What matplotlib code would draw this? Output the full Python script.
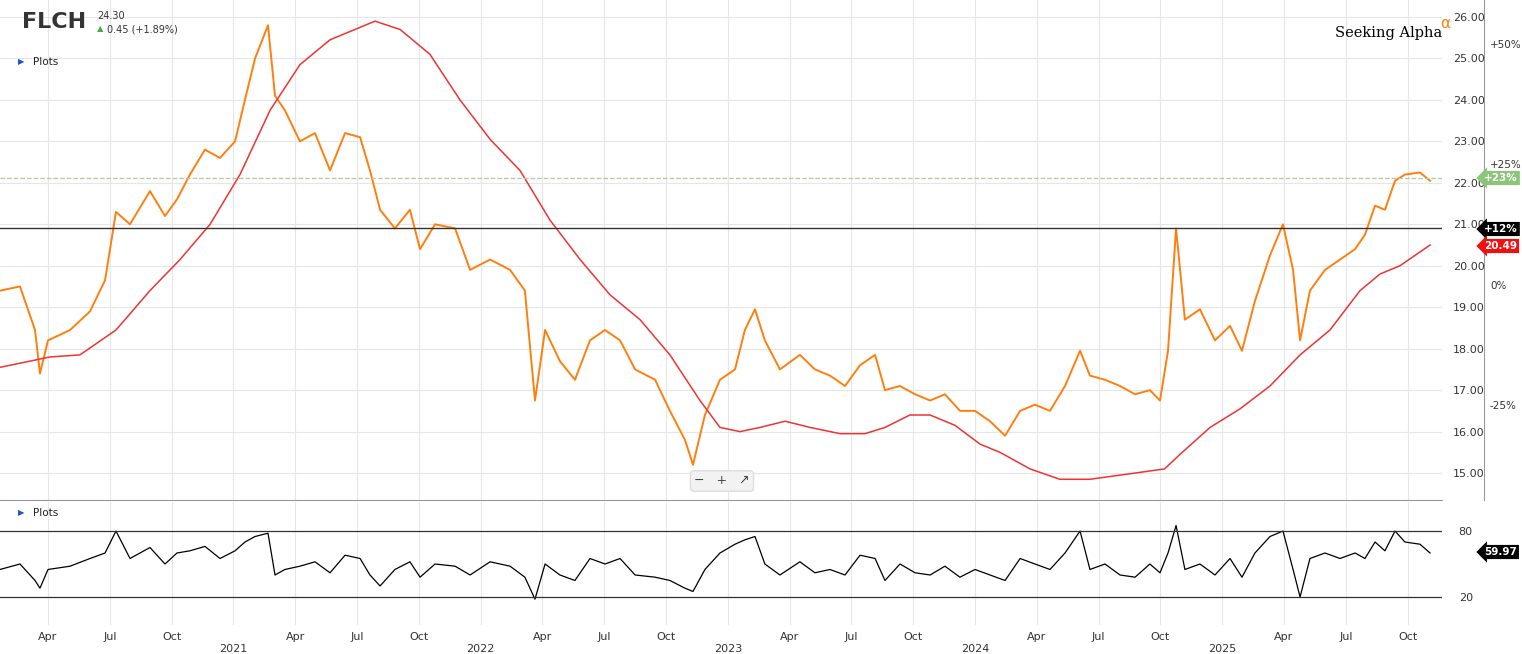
import matplotlib.pyplot as plt
from matplotlib.lines import Line2D

# x positions in months since Jan 1 2020
price_t = [0.67, 1.64, 2.37, 2.61, 3.0, 4.07, 5.04, 5.77, 6.3, 6.98, 7.95, 8.68, 9.26, 9.89, 10.62,
           11.35, 12.08, 12.56, 13.05, 13.68, 14.02, 14.5, 15.23, 15.96, 16.69, 17.42, 18.15, 18.63,
           19.12, 19.84, 20.57, 21.06, 21.79, 22.76, 23.49, 24.46, 25.43, 26.15, 26.64, 27.13, 27.85,
           28.58, 29.31, 30.04, 30.77, 31.5, 32.47, 33.19, 33.92, 34.31, 34.89, 35.62, 36.35, 36.83,
           37.32, 37.8, 38.53, 39.5, 40.23, 40.96, 41.69, 42.42, 43.15, 43.63, 44.36, 45.09, 45.82,
           46.54, 47.27, 48.0, 48.73, 49.46, 50.19, 50.91, 51.64, 52.37, 53.1, 53.58, 54.31, 55.04,
           55.77, 56.49, 56.98, 57.37, 57.76, 58.19, 58.92, 59.65, 60.38, 60.96, 61.59, 62.32, 62.95,
           63.44, 63.78, 64.26, 64.99, 65.72, 66.45, 66.93, 67.42, 67.9, 68.39, 68.87, 69.6, 70.09]
price = [19.4, 19.5, 18.45, 17.4, 18.2, 18.45, 18.9, 19.65, 21.3, 21.0, 21.8, 21.2, 21.6, 22.2, 22.8,
         22.6, 23.0, 24.0, 25.0, 25.8, 24.1, 23.75, 23.0, 23.2, 22.3, 23.2, 23.1, 22.3, 21.35, 20.9,
         21.35, 20.4, 21.0, 20.9, 19.9, 20.15, 19.9, 19.4, 16.75, 18.45, 17.7, 17.25, 18.2, 18.45,
         18.2, 17.5, 17.25, 16.5, 15.8, 15.2, 16.4, 17.25, 17.5, 18.45, 18.95, 18.2, 17.5, 17.85,
         17.5, 17.35, 17.1, 17.6, 17.85, 17.0, 17.1, 16.9, 16.75, 16.9, 16.5, 16.5, 16.25, 15.9,
         16.5, 16.65, 16.5, 17.1, 17.95, 17.35, 17.25, 17.1, 16.9, 17.0, 16.75, 17.95, 20.9, 18.7,
         18.95, 18.2, 18.55, 17.95, 19.15, 20.25, 21.0, 19.9, 18.2, 19.4, 19.9, 20.15, 20.4, 20.75,
         21.45, 21.35, 22.05, 22.2, 22.25, 22.05]
rsi = [45, 50, 35, 28, 45, 48, 55, 60, 80, 55, 65, 50, 60, 62, 66, 55, 62, 70, 75, 78, 40, 45, 48,
       52, 42, 58, 55, 40, 30, 45, 52, 38, 50, 48, 40, 52, 48, 38, 18, 50, 40, 35, 55, 50, 55, 40,
       38, 35, 28, 25, 45, 60, 68, 72, 75, 50, 40, 52, 42, 45, 40, 58, 55, 35, 50, 42, 40, 48, 38,
       45, 40, 35, 55, 50, 45, 60, 80, 45, 50, 40, 38, 50, 42, 60, 85, 45, 50, 40, 55, 38, 60, 75,
       80, 45, 20, 55, 60, 55, 60, 55, 70, 62, 80, 70, 68, 60]
sma_t = [0.67, 3.1, 4.55, 6.3, 7.95, 9.41, 10.87, 12.32, 13.78, 15.23, 16.69, 18.15, 18.87, 20.09,
         21.54, 23.0, 24.46, 25.91, 27.37, 28.83, 30.28, 31.74, 33.19, 34.65, 35.62, 36.59, 37.56,
         38.78, 40.0, 41.45, 42.66, 43.63, 44.84, 45.82, 47.03, 48.24, 49.21, 50.67, 52.12, 53.58,
         55.04, 56.49, 57.2, 57.95, 59.41, 60.87, 62.32, 63.78, 65.23, 66.69, 67.66, 68.63, 70.09]
sma = [17.55, 17.8, 17.85, 18.45, 19.4, 20.15, 21.0, 22.2, 23.75, 24.85, 25.45, 25.75, 25.9, 25.7,
       25.1, 24.0, 23.05, 22.3, 21.1, 20.15, 19.3, 18.7, 17.85, 16.75, 16.1, 16.0, 16.1, 16.25,
       16.1, 15.95, 15.95, 16.1, 16.4, 16.4, 16.15, 15.7, 15.5, 15.1, 14.85, 14.85, 14.95, 15.05,
       15.1, 15.45, 16.1, 16.55, 17.1, 17.85, 18.45, 19.4, 19.8, 20.0, 20.5]
price_ticks = [15, 16, 17, 18, 19, 20, 21, 22, 23, 24, 25, 26]
month_ticks = list(range(3, 70, 3))
month_names = {0: '', 3: 'Apr', 6: 'Jul', 9: 'Oct'}

W, H = 1522, 654
fig = plt.figure(figsize=(W / 100, H / 100), dpi=100)
ax = fig.add_axes([0, (H - 500) / H, 1442 / W, 500 / H])
ax2 = fig.add_axes([0, (H - 625) / H, 1442 / W, 123 / H])

xlim = (0.67, 70.67)
ax.plot(price_t, price, color='#ff7f0e', lw=1.4)
ax.plot(sma_t, sma, color='#ee3333', lw=1.1)
ax.axhline(20.9, color='#333333', lw=1)
ax.axhline(22.12, color='#b5c99a', lw=0.9, ls='--')
ax.set_xlim(*xlim)
ax.set_ylim(14.35, 26.41)
ax.yaxis.tick_right()
ax.set_yticks(price_ticks)
ax.set_yticklabels(['%.2f' % v for v in price_ticks], fontsize=8, color='#333333')
ax.tick_params(axis='y', length=0, pad=8)
ax.set_xticks(month_ticks)
ax.set_xticklabels([])
ax.tick_params(axis='x', length=0)
ax.grid(True, color='#e6e6e6', lw=0.8)
for s in ax.spines.values():
    s.set_visible(False)
ax.spines['bottom'].set_visible(True)
ax.spines['bottom'].set_color('#999999')

ax2.plot(price_t, rsi, color='black', lw=0.9)
ax2.axhline(80, color='#333333', lw=0.9)
ax2.axhline(20, color='#333333', lw=0.9)
ax2.set_xlim(*xlim)
ax2.set_ylim(-5.5, 106.4)
ax2.yaxis.tick_right()
ax2.set_yticks([20, 80])
ax2.set_yticklabels(['20', '80'], fontsize=8, color='#333333')
ax2.tick_params(axis='y', length=0, pad=12)
ax2.set_xticks(month_ticks)
ax2.set_xticklabels([month_names[m % 12] if m % 12 else '\n%d' % (2020 + m // 12)
                     for m in month_ticks], fontsize=8, color='#333333')
ax2.tick_params(axis='x', length=0, pad=5)
ax2.grid(True, axis='x', color='#e6e6e6', lw=0.8)
for s in ax2.spines.values():
    s.set_visible(False)

fig.add_artist(Line2D([1484 / W, 1484 / W], [1 - 500 / H, 1], color='#999999', lw=0.8))
for pct, yp in [('+50%', 45), ('+25%', 165), ('0%', 286), ('-25%', 406)]:
    fig.text(1490 / W, 1 - yp / H, pct, fontsize=7.5, color='#333333', va='center')

def tag(yp, txt, col):
    fig.text(1484 / W, 1 - yp / H, txt, fontsize=7.5, color='white', va='center', fontweight='bold',
             bbox=dict(boxstyle='larrow,pad=0.2', fc=col, ec='none'))

tag(178, '+23%', '#8cc47a')
tag(229, '+12%', 'black')
tag(246, '20.49', '#ee1111')
tag(552, '59.97', 'black')

fig.text(22 / W, 1 - 22 / H, 'FLCH', fontsize=16, fontweight='bold', color='#333333', va='center')
fig.text(97 / W, 1 - 16 / H, '24.30', fontsize=7, color='#333333', va='center')
fig.text(97 / W, 1 - 29 / H, '\u25b2', fontsize=6, color='#44aa44', va='center')
fig.text(107 / W, 1 - 29 / H, '0.45 (+1.89%)', fontsize=7, color='#333333', va='center')
for yp in (62, 513):
    fig.text(18 / W, 1 - yp / H, '\u25b6', fontsize=6, color='#2255cc', va='center')
    fig.text(33 / W, 1 - yp / H, 'Plots', fontsize=7.5, color='#222222', va='center')
fig.text(1335 / W, 1 - 33 / H, 'Seeking Alpha', fontsize=10.5, family='serif', color='black', va='center')
fig.text(1440 / W, 1 - 24 / H, '\u03b1', fontsize=11, color='#ff7f0e', va='center')
fig.text(722 / W, 1 - 481 / H, '\u2212   +   \u2197', fontsize=9, color='#444444', va='center',
         ha='center', bbox=dict(boxstyle='round,pad=0.3', fc='#f2f2f2', ec='#dddddd'))

fig.savefig('out.png', dpi=100)
